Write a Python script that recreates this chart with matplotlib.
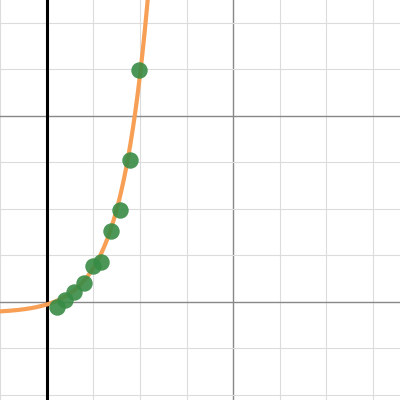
import numpy as np
import matplotlib.pyplot as plt

# data points
x_pts = [0.22, 0.39, 0.58, 0.80, 0.99, 1.16, 1.38, 1.57, 1.78, 1.98]
y_pts = [3.89, 4.04, 4.21, 4.41, 4.77, 4.86, 5.53, 5.98, 7.05, 8.99]

# fitted exponential model y = a + b*exp(c*x)
a, b, c = 3.76, 0.185, 1.66

fig = plt.figure(figsize=(4, 4), dpi=100)
ax = fig.add_axes([0, 0, 1, 1])
ax.set_xlim(-1.01, 7.59)
ax.set_ylim(1.89, 10.49)

# grid
for gx in np.arange(-1, 8):
    major = gx % 4 == 0
    ax.axvline(gx, color="#888888" if major else "#dcdcdc",
               lw=1.0 if major else 0.8, zorder=0)
for gy in np.arange(2, 11):
    major = gy % 4 == 0
    ax.axhline(gy, color="#888888" if major else "#dcdcdc",
               lw=1.0 if major else 0.8, zorder=0)
ax.axvline(0, color="black", lw=2.2, zorder=1)

xs = np.linspace(-1.1, 2.3, 400)
ax.plot(xs, a + b * np.exp(c * xs), color="#f79f55", lw=3, zorder=2)
ax.scatter(x_pts, y_pts, s=140, color="#388c46", alpha=0.9, lw=0, zorder=3)

ax.set_xticks([])
ax.set_yticks([])
for s in ax.spines.values():
    s.set_visible(False)

fig.savefig("out.png", dpi=100)
